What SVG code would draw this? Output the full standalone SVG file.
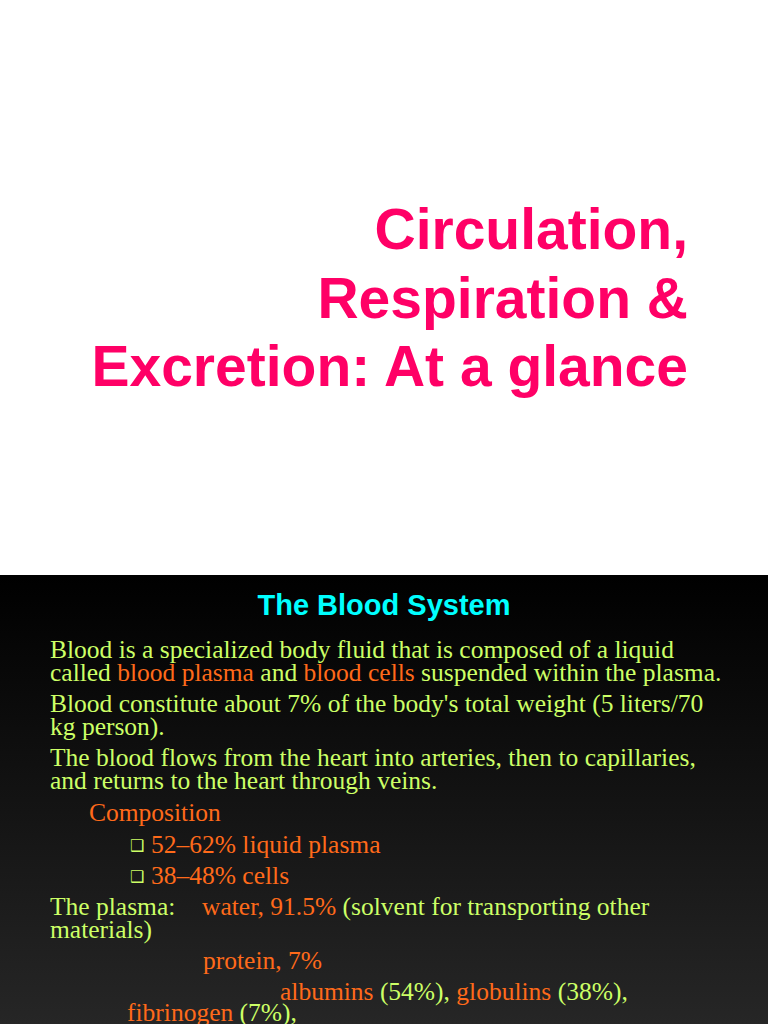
<svg xmlns="http://www.w3.org/2000/svg" width="768" height="1024" viewBox="0 0 768 1024">
<defs>
<linearGradient id="bg" x1="0" y1="0" x2="0" y2="1">
<stop offset="0" stop-color="#000"/><stop offset="1" stop-color="#262626"/>
</linearGradient>
<style>
.t{font-family:"Liberation Sans",Arial,sans-serif;font-weight:bold;font-size:57px;fill:#ff0066;text-anchor:end}
.h{font-family:"Liberation Sans",Arial,sans-serif;font-weight:bold;font-size:29px;fill:#00ffff;text-anchor:middle}
.b{font-family:"Liberation Serif","Times New Roman",serif;font-size:25.5px;fill:#ccff66}
.o{fill:#ff6a1a}
.q{font-family:"DejaVu Sans",sans-serif;font-size:16px;fill:#ccff66}
</style>
</defs>
<rect width="768" height="1024" fill="#fff"/>
<text class="t" x="688" y="249">Circulation,</text>
<text class="t" x="688" y="318">Respiration &amp;</text>
<text class="t" x="688" y="386">Excretion: At a glance</text>
<rect y="575" width="768" height="449" fill="url(#bg)"/>
<text class="h" x="384" y="615">The Blood System</text>
<g class="b">
<text x="50" y="658">Blood is a specialized body fluid that is composed of a liquid</text>
<text x="50" y="681">called <tspan class="o">blood plasma</tspan> and <tspan class="o">blood cells</tspan> suspended within the plasma.</text>
<text x="50" y="712">Blood constitute about 7% of the body's total weight (5 liters/70</text>
<text x="50" y="735">kg person).</text>
<text x="50" y="766">The blood flows from the heart into arteries, then to capillaries,</text>
<text x="50" y="789">and returns to the heart through veins.</text>
<text x="89" y="821" class="o">Composition</text>
<text x="151" y="853" class="o">52–62% liquid plasma</text>
<text x="151" y="884" class="o">38–48% cells</text>
<text x="50" y="915">The plasma:<tspan x="202" class="o">water, 91.5%</tspan> (solvent for transporting other</text>
<text x="50" y="938">materials)</text>
<text x="203" y="969" class="o">protein, 7%</text>
<text x="280" y="1000"><tspan class="o">albumins</tspan> (54%), <tspan class="o">globulins</tspan> (38%),</text>
<text x="127" y="1021"><tspan class="o">fibrinogen</tspan> (7%),</text>
</g>
<text class="q" x="130" y="851">❑</text>
<text class="q" x="130" y="882">❑</text>
</svg>
